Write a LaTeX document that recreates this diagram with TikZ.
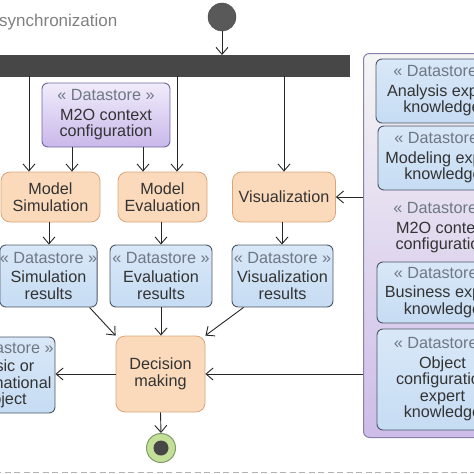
\documentclass[tikz,border=0pt]{standalone}
\usepackage{fontspec}
\setmainfont{Liberation Sans}
\usetikzlibrary{arrows.meta,calc}
\definecolor{actfill}{HTML}{FBDABC}
\definecolor{actbd}{HTML}{D9A67C}
\definecolor{dstop}{HTML}{D9E8F8}
\definecolor{dsbot}{HTML}{C6DCF3}
\definecolor{dsbd}{HTML}{4C5664}
\definecolor{dsgray}{HTML}{6E7883}
\definecolor{ptop}{HTML}{F1ECFB}
\definecolor{pbot}{HTML}{C9B8EA}
\definecolor{pbd}{HTML}{6F62A0}
\definecolor{contbot}{HTML}{CDBCE9}
\definecolor{contbd}{HTML}{8A80A8}
\definecolor{txt}{HTML}{333333}
\definecolor{finfill}{HTML}{C3DF98}
\definecolor{finbd}{HTML}{7E9A66}
\newcommand\dslab{{\color{dsgray}« Datastore »}}
\begin{document}
\begin{tikzpicture}[x=1pt,y=-1pt,
  font=\fontsize{16.2}{16.5}\selectfont, text=txt,
  actbox/.style={draw=actbd, fill=actfill, rounded corners=9pt, line width=0.8pt, align=center, inner sep=0pt},
  dsbox/.style={draw=dsbd, top color=dstop, bottom color=dsbot, rounded corners=6pt, line width=0.9pt, align=center, inner sep=0pt},
  arr/.style={draw=black!85, line width=0.9pt, -{Straight Barb[length=7pt,width=12pt]}}]
\useasboundingbox (0,0) rectangle (474,474);
\clip (0,0) rectangle (474,474);

% synchronization label
\node[anchor=west, text=black!50, inner sep=0pt, font=\fontsize{17}{17}\selectfont] (sync) at (-1,22.5) {synchronization};

% initial node
\node[circle, fill=black!65, draw=black!72, minimum size=28pt, inner sep=0pt] (init) at (222,17) {};

% fork bar
\node[fill=black!72, draw=black!72, anchor=north west, minimum width=359pt, minimum height=21pt, inner sep=0pt] (bar) at (-10,55) {};

% M2O datastore
\node[draw=pbd, top color=ptop, bottom color=pbot, rounded corners=6pt, line width=0.9pt, align=center, inner sep=0pt,
      minimum width=128pt, minimum height=64pt] (m2o) at (106,115) {\dslab\\[3pt]M2O context\\configuration};

% actions
\node[actbox, minimum width=99pt, minimum height=50pt] (ms) at (50.5,197) {Model\\Simulation};
\node[actbox, minimum width=89pt, minimum height=50pt] (me) at (162.5,197) {Model\\Evaluation};
\node[actbox, minimum width=103pt, minimum height=50pt] (vis) at (284,197) {Visualization};

% result datastores
\node[dsbox, minimum width=89pt, minimum height=62pt] (sr) at (48.5,276) {\dslab\\[3pt]Simulation\\results};
\node[dsbox, minimum width=102pt, minimum height=62pt] (er) at (161,276) {\dslab\\[3pt]Evaluation\\results};
\node[dsbox, minimum width=101pt, minimum height=62pt] (vr) at (282.5,276) {\dslab\\[3pt]Visualization\\results};

% decision
\node[actbox, minimum width=89pt, minimum height=76pt] (dm) at (160.5,374) {Decision\\making};

% left datastore
\node[dsbox, minimum width=100pt, minimum height=76pt] (obj) at (5,375) {\dslab\\[2pt]Basic or\\informational\\object};

% final node
\node[circle, fill=finfill, draw=finbd, line width=1pt, minimum size=29pt, inner sep=0pt] (fin) at (161,448) {};
\fill[black!72] (fin.center) circle (7.5pt);

% right container
\node[draw=contbd, top color=white!96!black, bottom color=contbot, rounded corners=6pt, line width=1pt,
      anchor=north west, minimum width=160pt, minimum height=384pt, inner sep=0pt] (cont) at (363,53) {};
\node[dsbox, minimum width=132pt, minimum height=64pt] (ae) at (442,91) {\dslab\\[3pt]Analysis expert\\knowledge};
\node[dsbox, minimum width=130pt, minimum height=64pt] (mo) at (443,158) {\dslab\\[3pt]Modeling expert\\knowledge};
\node[align=center, inner sep=0pt] (m2oc) at (442,228) {\dslab\\[3pt]M2O context\\configuration};
\node[dsbox, minimum width=131pt, minimum height=61pt] (be) at (442.5,292.5) {\dslab\\[3pt]Business expert\\knowledge};
\node[dsbox, minimum width=131pt, minimum height=101pt] (oc) at (442.5,379.5) {\dslab\\[3pt]Object\\configuration\\expert\\knowledge};

% connectors
\draw[arr] (init) -- (init |- bar.north);
\draw[arr] ([xshift=-21.5pt]ms.north |- bar.south) -- ([xshift=-21.5pt]ms.north);
\draw[arr] ([xshift=21.5pt]ms.north |- m2o.south) -- ([xshift=21.5pt]ms.north);
\draw[arr] ([xshift=-19.5pt]me.north |- m2o.south) -- ([xshift=-19.5pt]me.north);
\draw[arr] ([xshift=14.5pt]me.north |- bar.south) -- ([xshift=14.5pt]me.north);
\draw[arr] (vis.north |- bar.south) -- (vis.north);
\draw[arr] (vis.east -| cont.west) -- (vis.east);
\draw[arr] ([xshift=-1.5pt]ms.south) -- ([xshift=-1.5pt]ms.south |- sr.north);
\draw[arr] (me.south -| er.north) -- (er.north);
\draw[arr] ([xshift=-2pt]vis.south) -- ([xshift=-2pt]vis.south |- vr.north);
\draw[arr] ([xshift=-8pt]sr.south east) -- (dm.north west);
\draw[arr] (er.south) -- (er.south |- dm.north);
\draw[arr] ([xshift=12pt]vr.south west) -- (dm.north east);
\draw[arr] (dm.west) -- (dm.west -| obj.east);
\draw[arr] (dm.east -| cont.west) -- (dm.east);
\draw[arr] (dm.south) -- (fin.north);

% dashed bottom line
\draw[black!30, line width=1.8pt, dash pattern=on 6pt off 3.5pt] (-5,472.5) -- (480,472.5);
\end{tikzpicture}
\end{document}
